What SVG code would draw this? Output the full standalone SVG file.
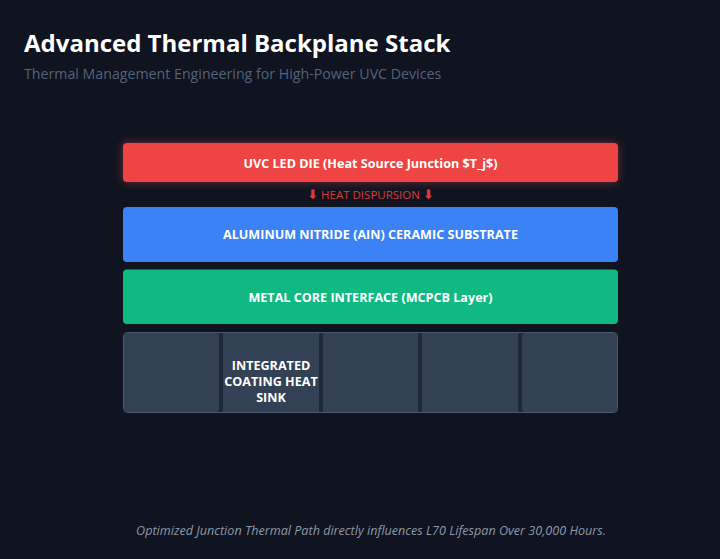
<svg xmlns="http://www.w3.org/2000/svg" width="720" height="559" viewBox="0 0 720 559">
<defs>
<filter id="glow" x="-20%" y="-80%" width="140%" height="260%">
<feGaussianBlur in="SourceGraphic" stdDeviation="5"/>
</filter>
<style>
.t{font-family:"Open Sans","Noto Sans","Liberation Sans",sans-serif}
.lbl{font-family:"Open Sans","Noto Sans","Liberation Sans",sans-serif;font-weight:700;font-size:12.6px;fill:#ffffff;text-anchor:middle}
.cell{fill:#334155}
</style>
</defs>
<rect width="720" height="559" fill="#0f1420"/>
<text class="t" x="24" y="52" font-size="24" font-weight="700" fill="#ffffff">Advanced Thermal Backplane Stack</text>
<text class="t" x="24" y="79" font-size="14.2" fill="#55637a">Thermal Management Engineering for High-Power UVC Devices</text>

<g id="led-die">
<rect x="123" y="143" width="495" height="39" rx="4" fill="#ef4444" opacity="0.45" filter="url(#glow)"/>
<rect x="123" y="143" width="495" height="39" rx="4" fill="#ef4444"/>
<text class="lbl" x="370.5" y="167.5" font-size="13.5">UVC LED DIE (Heat Source Junction $T_j$)</text>
</g>

<g id="connectors">
<text class="t" x="370.5" y="199" font-size="11.5" fill="#dc3b3b" text-anchor="middle"><tspan font-family="DejaVu Sans, sans-serif" font-size="13" font-weight="700">⬇</tspan> HEAT DISPURSION <tspan font-family="DejaVu Sans, sans-serif" font-size="13" font-weight="700">⬇</tspan></text>
</g>

<g id="aln-substrate">
<rect x="123" y="207" width="495" height="55" rx="4" fill="#3b82f6"/>
<text class="lbl" x="370.5" y="239">ALUMINUM NITRIDE (AIN) CERAMIC SUBSTRATE</text>
</g>

<g id="mcpcb">
<rect x="123" y="269.5" width="495" height="54.5" rx="4" fill="#10b981"/>
<text class="lbl" x="370.5" y="302">METAL CORE INTERFACE (MCPCB Layer)</text>
</g>

<g id="heat-sink">
<rect x="123.5" y="332.5" width="494" height="80" rx="4" fill="#1e293b" stroke="#4b5870" stroke-width="1"/>
<rect class="cell" x="124" y="333" width="95" height="79" rx="3"/>
<rect class="cell" x="223" y="333" width="96" height="79"/>
<rect class="cell" x="323" y="333" width="95" height="79"/>
<rect class="cell" x="422" y="333" width="96" height="79"/>
<rect class="cell" x="522" y="333" width="95" height="79" rx="3"/>
<text class="lbl" font-size="10.8" x="271" y="370">INTEGRATED</text>
<text class="lbl" font-size="10.8" x="271" y="386">COATING HEAT</text>
<text class="lbl" font-size="10.8" x="271" y="402">SINK</text>
</g>

<text class="t" x="371" y="535" font-size="12.6" font-style="italic" fill="#8e98a8" text-anchor="middle">Optimized Junction Thermal Path directly influences L70 Lifespan Over 30,000 Hours.</text>
</svg>
